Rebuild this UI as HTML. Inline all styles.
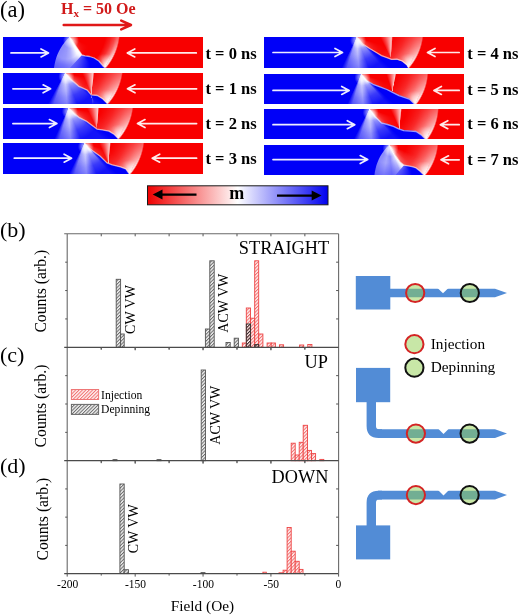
<!DOCTYPE html>
<html><head><meta charset="utf-8"><style>
html,body{margin:0;padding:0;background:#fff;}
body{width:520px;height:615px;position:relative;overflow:hidden;font-family:"Liberation Serif", "DejaVu Serif", serif;}
.st{position:absolute;overflow:hidden;}
.st .in{position:absolute;left:0;top:0;right:0;bottom:0;filter:blur(.6px);}
.st .bl,.st .rd,.st .ly{position:absolute;left:0;top:0;width:100%;height:100%;}
.ov{position:absolute;left:0;top:0;}
svg text{font-family:"Liberation Serif", "DejaVu Serif", serif;}
#main{position:absolute;left:0;top:0;}
</style></head><body>
<div class="st" style="left:3px;top:37px;width:199.5px;height:30.7px"><div class="in"><div class="bl"><div class="ly" style="background:#0000f8;"></div><div class="ly" style="clip-path:polygon(66.5px 0px, 63.99px 2.58px, 61.69px 5.27px, 59.6px 8.07px, 57.73px 10.98px, 56.07px 14px, 54.63px 17.12px, 53.4px 20.35px, 52.39px 23.69px, 51.59px 27.14px, 51px 30.7px, 51px 35.7px, 204.5px 35.7px, 204.5px -5px, 66.5px -5px);background:conic-gradient(from 125.22deg at 66.5px 0px, rgba(255,255,255,0) 0deg, rgba(255,255,255,0) 13deg, rgba(255,255,255,1) 20deg, rgba(255,255,255,0.95) 32deg, rgba(255,255,255,0.7) 50.78deg, rgba(255,255,255,0.6) 66.17deg, rgba(255,255,255,0.55) 85.57deg, rgba(255,255,255,0.55) 300deg, rgba(255,255,255,0) 301deg, rgba(255,255,255,0) 360deg);-webkit-mask-image:radial-gradient(circle at 63.5px 8px, rgba(0,0,0,1) 0px, rgba(0,0,0,1) 14px, rgba(0,0,0,0.75) 20px, rgba(0,0,0,0.45) 34px)"></div><div class="ly" style="background:conic-gradient(from 125.22deg at 66.5px 0px, rgba(255,255,255,0) 0deg, rgba(255,255,255,0) 13deg, rgba(255,255,255,1) 20deg, rgba(255,255,255,0.9) 26deg, rgba(255,255,255,0) 34deg, rgba(255,255,255,0) 360deg);-webkit-mask-image:radial-gradient(circle at 66.5px 0px, rgba(0,0,0,1) 0px, rgba(0,0,0,1) 13.91px, rgba(0,0,0,0.8) 21.91px, rgba(0,0,0,0) 25.91px);mask-image:radial-gradient(circle at 66.5px 0px, rgba(0,0,0,1) 0px, rgba(0,0,0,1) 13.91px, rgba(0,0,0,0.8) 21.91px, rgba(0,0,0,0) 25.91px);"></div><div class="ly" style="clip-path:polygon(79px 18px, 82px 18.8px, 86.6px 19.5px, 91.2px 21px, 95.8px 24px, 100.5px 29.5px, 102px 30.7px, 107px 35.7px, 62.49px 35.7px);background:linear-gradient(90deg, rgba(0,0,248,0) 62.49px, #0000f8 87px)"></div></div><div class="rd" style="clip-path:polygon(66.5px 0px, 79px 18px, 82px 18.8px, 86.6px 19.5px, 91.2px 21px, 95.8px 24px, 100.5px 29.5px, 102px 30.7px, 204.5px 35.7px, 204.5px -5px, 66.5px -5px)"><div class="ly" style="background:#f80000;"></div><div class="ly" style="background:radial-gradient(circle 62.49px at 58.41px -6.78px, rgba(255,255,255,0) 44.49px, rgba(255,255,255,.22) 49.69px, rgba(255,255,255,.5) 53.59px, rgba(255,255,255,.82) 55.99px, rgba(255,255,255,.9) 57.49px, rgba(255,255,255,0) 58.89px);-webkit-mask-image:radial-gradient(circle at 102px 30.7px, rgba(0,0,0,1) 0px, rgba(0,0,0,1) 8px, rgba(0,0,0,0.45) 32px)"></div><div class="ly" style="background:conic-gradient(from -76.26deg at 102px 30.7px, rgba(255,255,255,0) 0deg, rgba(255,255,255,0) 30deg, rgba(255,255,255,0.55) 60deg, rgba(255,255,255,0.8) 100deg, rgba(255,255,255,0) 100.8deg, rgba(255,255,255,0) 360deg);-webkit-mask-image:radial-gradient(circle at 102px 30.7px, rgba(0,0,0,1) 0px, rgba(0,0,0,1) 3px, rgba(0,0,0,0) 14px);mask-image:radial-gradient(circle at 102px 30.7px, rgba(0,0,0,1) 0px, rgba(0,0,0,1) 3px, rgba(0,0,0,0) 14px);"></div><div class="ly" style="background:conic-gradient(from 85.22deg at 66.5px 0px, rgba(255,255,255,0) 0deg, rgba(255,255,255,0) 28deg, rgba(255,255,255,0.35) 47.2deg, rgba(255,255,255,0.85) 60deg, rgba(255,255,255,0.85) 80deg, rgba(255,255,255,0) 82deg, rgba(255,255,255,0) 360deg);-webkit-mask-image:radial-gradient(circle at 66.5px 0px, rgba(0,0,0,1) 0px, rgba(0,0,0,1) 3px, rgba(0,0,0,0.55) 7px, rgba(0,0,0,0.2) 14px, rgba(0,0,0,0) 22.4px);mask-image:radial-gradient(circle at 66.5px 0px, rgba(0,0,0,1) 0px, rgba(0,0,0,1) 3px, rgba(0,0,0,0.55) 7px, rgba(0,0,0,0.2) 14px, rgba(0,0,0,0) 22.4px);"></div></div><svg class="ov" width="199.5" height="30.7"><polyline points="66.5,0 79,18 82,18.8 86.6,19.5 91.2,21 95.8,24 100.5,29.5 102,30.7" fill="none" stroke="#fff" stroke-width="1.3" stroke-opacity=".6" stroke-linejoin="round"/></svg><div class="ly" style="background:radial-gradient(circle 8px at 68px 3.5px, rgba(255,255,255,0.85) 0px, rgba(255,255,255,0.47) 4px, rgba(255,255,255,0) 8px)"></div></div><svg class="ov" width="199.5" height="30.7"><g fill="none" stroke-width="1.7" stroke-linecap="round" stroke-linejoin="round"><path d="M8 15.9H45 M38 11.9L45.5 15.9L38 19.9" stroke="#eeeeff"/><path d="M193.3 15.9H124.8 M131.8 11.9L124.3 15.9L131.8 19.9" stroke="#ffeaea"/></g></svg></div><div class="st" style="left:3px;top:73.1px;width:199.5px;height:30.6px"><div class="in"><div class="bl"><div class="ly" style="background:#0000f8;"></div><div class="ly" style="background:conic-gradient(from 113.93deg at 61.9px 0px, rgba(255,255,255,0) 0deg, rgba(255,255,255,0) 13deg, rgba(255,255,255,0.95) 20deg, rgba(255,255,255,0.85) 54.47deg, rgba(255,255,255,0.55) 85.93deg, rgba(255,255,255,0) 94.93deg, rgba(255,255,255,0) 360deg);-webkit-mask-image:radial-gradient(circle at 61.9px 0px, rgba(0,0,0,1) 0px, rgba(0,0,0,1) 6px, rgba(0,0,0,0.6) 14px, rgba(0,0,0,0.25) 24px, rgba(0,0,0,0.08) 34px);mask-image:radial-gradient(circle at 61.9px 0px, rgba(0,0,0,1) 0px, rgba(0,0,0,1) 6px, rgba(0,0,0,0.6) 14px, rgba(0,0,0,0.25) 24px, rgba(0,0,0,0.08) 34px);"></div><div class="ly" style="background:conic-gradient(from 113.93deg at 61.9px 0px, rgba(255,255,255,0) 0deg, rgba(255,255,255,0) 44.07deg, rgba(255,255,255,0.55) 62.07deg, rgba(255,255,255,0.35) 85.93deg, rgba(255,255,255,0) 94.93deg, rgba(255,255,255,0) 360deg);-webkit-mask-image:radial-gradient(circle at 58.9px 8px, rgba(0,0,0,1) 0px, rgba(0,0,0,1) 10px, rgba(0,0,0,0.85) 20px, rgba(0,0,0,0.65) 34px)"></div><div class="ly" style="background:conic-gradient(from 113.93deg at 61.9px 0px, rgba(255,255,255,0) 0deg, rgba(255,255,255,0) 13deg, rgba(255,255,255,1) 20deg, rgba(255,255,255,0.9) 26deg, rgba(255,255,255,0) 34deg, rgba(255,255,255,0) 360deg);-webkit-mask-image:radial-gradient(circle at 61.9px 0px, rgba(0,0,0,1) 0px, rgba(0,0,0,1) 2px, rgba(0,0,0,0.5) 9px, rgba(0,0,0,0) 13px);mask-image:radial-gradient(circle at 61.9px 0px, rgba(0,0,0,1) 0px, rgba(0,0,0,1) 2px, rgba(0,0,0,0.5) 9px, rgba(0,0,0,0) 13px);"></div><div class="ly" style="background:conic-gradient(from 150deg at 88.2px 22.4px, rgba(255,255,255,0) 0deg, rgba(255,255,255,0.6) 22deg, rgba(255,255,255,0) 23deg, rgba(255,255,255,0) 360deg);-webkit-mask-image:radial-gradient(circle at 88.2px 22.4px, rgba(0,0,0,1) 0px, rgba(0,0,0,0) 9px);mask-image:radial-gradient(circle at 88.2px 22.4px, rgba(0,0,0,1) 0px, rgba(0,0,0,0) 9px);"></div></div><div class="rd" style="clip-path:polygon(61.9px 0px, 67px 5.4px, 75.5px 13.1px, 84.2px 17.1px, 88.2px 21.8px, 94.3px 22.5px, 99.7px 25.8px, 103.7px 29.9px, 104.2px 30.6px, 204.5px 35.6px, 204.5px -5px, 61.9px -5px)"><div class="ly" style="background:#f80000;"></div><div class="ly" style="background:radial-gradient(circle 63.29px at 60.8px -8.32px, rgba(255,255,255,0) 28.29px, rgba(255,255,255,.22) 40.29px, rgba(255,255,255,.5) 49.29px, rgba(255,255,255,.82) 56.79px, rgba(255,255,255,.9) 58.29px, rgba(255,255,255,0) 59.69px);-webkit-mask-image:radial-gradient(circle at 104.2px 30.6px, rgba(0,0,0,1) 0px, rgba(0,0,0,1) 8px, rgba(0,0,0,0.45) 32px)"></div><div class="ly" style="background:conic-gradient(from -74.95deg at 104.2px 30.6px, rgba(255,255,255,0) 0deg, rgba(255,255,255,0) 30deg, rgba(255,255,255,0.55) 60deg, rgba(255,255,255,0.8) 100deg, rgba(255,255,255,0) 100.8deg, rgba(255,255,255,0) 360deg);-webkit-mask-image:radial-gradient(circle at 104.2px 30.6px, rgba(0,0,0,1) 0px, rgba(0,0,0,1) 3px, rgba(0,0,0,0) 14px);mask-image:radial-gradient(circle at 104.2px 30.6px, rgba(0,0,0,1) 0px, rgba(0,0,0,1) 3px, rgba(0,0,0,0) 14px);"></div><div class="ly" style="background:conic-gradient(from 73.93deg at 61.9px 0px, rgba(255,255,255,0) 0deg, rgba(255,255,255,0) 28deg, rgba(255,255,255,0.35) 47.2deg, rgba(255,255,255,0.85) 60deg, rgba(255,255,255,0.85) 80deg, rgba(255,255,255,0) 82deg, rgba(255,255,255,0) 360deg);-webkit-mask-image:radial-gradient(circle at 61.9px 0px, rgba(0,0,0,1) 0px, rgba(0,0,0,1) 3px, rgba(0,0,0,0.55) 12px, rgba(0,0,0,0.2) 24px, rgba(0,0,0,0) 38.4px);mask-image:radial-gradient(circle at 61.9px 0px, rgba(0,0,0,1) 0px, rgba(0,0,0,1) 3px, rgba(0,0,0,0.55) 12px, rgba(0,0,0,0.2) 24px, rgba(0,0,0,0) 38.4px);"></div><div class="ly" style="background:conic-gradient(from -24deg at 88.5px 21.4px, rgba(255,255,255,0) 0deg, rgba(255,255,255,0.3) 12deg, rgba(255,255,255,0.6) 22deg, rgba(255,255,255,0.78) 28deg, rgba(255,255,255,0) 32deg, rgba(255,255,255,0) 360deg);"></div></div><svg class="ov" width="199.5" height="30.6"><polyline points="61.9,0 67,5.4 75.5,13.1 84.2,17.1 88.2,21.8 94.3,22.5 99.7,25.8 103.7,29.9 104.2,30.6" fill="none" stroke="#fff" stroke-width="1.3" stroke-opacity=".6" stroke-linejoin="round"/></svg><div class="ly" style="background:radial-gradient(circle 8px at 63.4px 3.5px, rgba(255,255,255,0.85) 0px, rgba(255,255,255,0.47) 4px, rgba(255,255,255,0) 8px)"></div></div><svg class="ov" width="199.5" height="30.6"><g fill="none" stroke-width="1.7" stroke-linecap="round" stroke-linejoin="round"><path d="M9.9 15.8H47.1 M40.1 11.8L47.6 15.8L40.1 19.8" stroke="#eeeeff"/><path d="M193.6 15.8H125 M132 11.8L124.5 15.8L132 19.8" stroke="#ffeaea"/></g></svg></div><div class="st" style="left:3px;top:108.1px;width:199.5px;height:30.6px"><div class="in"><div class="bl"><div class="ly" style="background:#0000f8;"></div><div class="ly" style="background:conic-gradient(from 111.41deg at 65.4px 0px, rgba(255,255,255,0) 0deg, rgba(255,255,255,0) 13deg, rgba(255,255,255,0.95) 20deg, rgba(255,255,255,0.85) 53.68deg, rgba(255,255,255,0.55) 84.36deg, rgba(255,255,255,0) 93.36deg, rgba(255,255,255,0) 360deg);-webkit-mask-image:radial-gradient(circle at 65.4px 0px, rgba(0,0,0,1) 0px, rgba(0,0,0,1) 6px, rgba(0,0,0,0.6) 14px, rgba(0,0,0,0.25) 24px, rgba(0,0,0,0.08) 34px);mask-image:radial-gradient(circle at 65.4px 0px, rgba(0,0,0,1) 0px, rgba(0,0,0,1) 6px, rgba(0,0,0,0.6) 14px, rgba(0,0,0,0.25) 24px, rgba(0,0,0,0.08) 34px);"></div><div class="ly" style="background:conic-gradient(from 111.41deg at 65.4px 0px, rgba(255,255,255,0) 0deg, rgba(255,255,255,0) 46.59deg, rgba(255,255,255,0.55) 64.59deg, rgba(255,255,255,0.35) 84.36deg, rgba(255,255,255,0) 93.36deg, rgba(255,255,255,0) 360deg);-webkit-mask-image:radial-gradient(circle at 62.4px 8px, rgba(0,0,0,1) 0px, rgba(0,0,0,1) 10px, rgba(0,0,0,0.85) 20px, rgba(0,0,0,0.65) 34px)"></div><div class="ly" style="background:conic-gradient(from 111.41deg at 65.4px 0px, rgba(255,255,255,0) 0deg, rgba(255,255,255,0) 13deg, rgba(255,255,255,1) 20deg, rgba(255,255,255,0.9) 26deg, rgba(255,255,255,0) 34deg, rgba(255,255,255,0) 360deg);-webkit-mask-image:radial-gradient(circle at 65.4px 0px, rgba(0,0,0,1) 0px, rgba(0,0,0,1) 2px, rgba(0,0,0,0.5) 9px, rgba(0,0,0,0) 13px);mask-image:radial-gradient(circle at 65.4px 0px, rgba(0,0,0,1) 0px, rgba(0,0,0,1) 2px, rgba(0,0,0,0.5) 9px, rgba(0,0,0,0) 13px);"></div></div><div class="rd" style="clip-path:polygon(65.4px 0px, 68px 2.7px, 76.4px 9.7px, 83.2px 13.1px, 88.5px 17.1px, 93.9px 21.1px, 99.3px 21.8px, 106px 23.1px, 111.4px 26.5px, 114.8px 30.1px, 115.2px 30.6px, 204.5px 35.6px, 204.5px -5px, 65.4px -5px)"><div class="ly" style="background:#f80000;"></div><div class="ly" style="background:radial-gradient(circle 62.59px at 71.88px -7.35px, rgba(255,255,255,0) 27.59px, rgba(255,255,255,.22) 39.59px, rgba(255,255,255,.5) 48.59px, rgba(255,255,255,.82) 56.09px, rgba(255,255,255,.9) 57.59px, rgba(255,255,255,0) 58.99px);-webkit-mask-image:radial-gradient(circle at 115.2px 30.6px, rgba(0,0,0,1) 0px, rgba(0,0,0,1) 8px, rgba(0,0,0,0.45) 32px)"></div><div class="ly" style="background:conic-gradient(from -75.73deg at 115.2px 30.6px, rgba(255,255,255,0) 0deg, rgba(255,255,255,0) 30deg, rgba(255,255,255,0.55) 60deg, rgba(255,255,255,0.8) 100deg, rgba(255,255,255,0) 100.8deg, rgba(255,255,255,0) 360deg);-webkit-mask-image:radial-gradient(circle at 115.2px 30.6px, rgba(0,0,0,1) 0px, rgba(0,0,0,1) 3px, rgba(0,0,0,0) 14px);mask-image:radial-gradient(circle at 115.2px 30.6px, rgba(0,0,0,1) 0px, rgba(0,0,0,1) 3px, rgba(0,0,0,0) 14px);"></div><div class="ly" style="background:conic-gradient(from 71.41deg at 65.4px 0px, rgba(255,255,255,0) 0deg, rgba(255,255,255,0) 28deg, rgba(255,255,255,0.35) 47.2deg, rgba(255,255,255,0.85) 60deg, rgba(255,255,255,0.85) 80deg, rgba(255,255,255,0) 82deg, rgba(255,255,255,0) 360deg);-webkit-mask-image:radial-gradient(circle at 65.4px 0px, rgba(0,0,0,1) 0px, rgba(0,0,0,1) 3px, rgba(0,0,0,0.55) 12px, rgba(0,0,0,0.2) 24px, rgba(0,0,0,0) 38.4px);mask-image:radial-gradient(circle at 65.4px 0px, rgba(0,0,0,1) 0px, rgba(0,0,0,1) 3px, rgba(0,0,0,0.55) 12px, rgba(0,0,0,0.2) 24px, rgba(0,0,0,0) 38.4px);"></div><div class="ly" style="background:conic-gradient(from -26deg at 94px 21.1px, rgba(255,255,255,0) 0deg, rgba(255,255,255,0.3) 12deg, rgba(255,255,255,0.6) 22deg, rgba(255,255,255,0.78) 28deg, rgba(255,255,255,0) 32deg, rgba(255,255,255,0) 360deg);"></div></div><svg class="ov" width="199.5" height="30.6"><polyline points="65.4,0 68,2.7 76.4,9.7 83.2,13.1 88.5,17.1 93.9,21.1 99.3,21.8 106,23.1 111.4,26.5 114.8,30.1 115.2,30.6" fill="none" stroke="#fff" stroke-width="1.3" stroke-opacity=".6" stroke-linejoin="round"/></svg><div class="ly" style="background:radial-gradient(circle 8px at 66.9px 3.5px, rgba(255,255,255,0.85) 0px, rgba(255,255,255,0.47) 4px, rgba(255,255,255,0) 8px)"></div></div><svg class="ov" width="199.5" height="30.6"><g fill="none" stroke-width="1.7" stroke-linecap="round" stroke-linejoin="round"><path d="M9.9 15.6H53.4 M46.4 11.6L53.9 15.6L46.4 19.6" stroke="#eeeeff"/><path d="M193.6 15.6H135 M142 11.6L134.5 15.6L142 19.6" stroke="#ffeaea"/></g></svg></div><div class="st" style="left:3px;top:143px;width:199.5px;height:31px"><div class="in"><div class="bl"><div class="ly" style="background:#0000f8;"></div><div class="ly" style="background:conic-gradient(from 119.94deg at 81.4px 0px, rgba(255,255,255,0) 0deg, rgba(255,255,255,0) 13deg, rgba(255,255,255,0.95) 20deg, rgba(255,255,255,0.85) 50.37deg, rgba(255,255,255,0.55) 77.74deg, rgba(255,255,255,0) 86.74deg, rgba(255,255,255,0) 360deg);-webkit-mask-image:radial-gradient(circle at 81.4px 0px, rgba(0,0,0,1) 0px, rgba(0,0,0,1) 6px, rgba(0,0,0,0.6) 14px, rgba(0,0,0,0.25) 24px, rgba(0,0,0,0.08) 34px);mask-image:radial-gradient(circle at 81.4px 0px, rgba(0,0,0,1) 0px, rgba(0,0,0,1) 6px, rgba(0,0,0,0.6) 14px, rgba(0,0,0,0.25) 24px, rgba(0,0,0,0.08) 34px);"></div><div class="ly" style="background:conic-gradient(from 119.94deg at 81.4px 0px, rgba(255,255,255,0) 0deg, rgba(255,255,255,0) 38.06deg, rgba(255,255,255,0.55) 56.06deg, rgba(255,255,255,0.35) 77.74deg, rgba(255,255,255,0) 86.74deg, rgba(255,255,255,0) 360deg);-webkit-mask-image:radial-gradient(circle at 78.4px 8px, rgba(0,0,0,1) 0px, rgba(0,0,0,1) 10px, rgba(0,0,0,0.85) 20px, rgba(0,0,0,0.65) 34px)"></div><div class="ly" style="background:conic-gradient(from 119.94deg at 81.4px 0px, rgba(255,255,255,0) 0deg, rgba(255,255,255,0) 13deg, rgba(255,255,255,1) 20deg, rgba(255,255,255,0.9) 26deg, rgba(255,255,255,0) 34deg, rgba(255,255,255,0) 360deg);-webkit-mask-image:radial-gradient(circle at 81.4px 0px, rgba(0,0,0,1) 0px, rgba(0,0,0,1) 2px, rgba(0,0,0,0.5) 9px, rgba(0,0,0,0) 13px);mask-image:radial-gradient(circle at 81.4px 0px, rgba(0,0,0,1) 0px, rgba(0,0,0,1) 2px, rgba(0,0,0,0.5) 9px, rgba(0,0,0,0) 13px);"></div></div><div class="rd" style="clip-path:polygon(81.4px 0px, 85.1px 4.4px, 90.5px 8.4px, 97.2px 13.2px, 103.9px 19.9px, 109.3px 21.9px, 117.4px 23.9px, 122.8px 25.9px, 126.1px 30.6px, 126.5px 31px, 204.5px 36px, 204.5px -5px, 81.4px -5px)"><div class="ly" style="background:#f80000;"></div><div class="ly" style="background:radial-gradient(circle 63.41px at 81.99px -6.82px, rgba(255,255,255,0) 28.41px, rgba(255,255,255,.22) 40.41px, rgba(255,255,255,.5) 49.41px, rgba(255,255,255,.82) 56.91px, rgba(255,255,255,.9) 58.41px, rgba(255,255,255,0) 59.81px);-webkit-mask-image:radial-gradient(circle at 126.5px 31px, rgba(0,0,0,1) 0px, rgba(0,0,0,1) 8px, rgba(0,0,0,0.45) 32px)"></div><div class="ly" style="background:conic-gradient(from -76.47deg at 126.5px 31px, rgba(255,255,255,0) 0deg, rgba(255,255,255,0) 30deg, rgba(255,255,255,0.55) 60deg, rgba(255,255,255,0.8) 100deg, rgba(255,255,255,0) 100.8deg, rgba(255,255,255,0) 360deg);-webkit-mask-image:radial-gradient(circle at 126.5px 31px, rgba(0,0,0,1) 0px, rgba(0,0,0,1) 3px, rgba(0,0,0,0) 14px);mask-image:radial-gradient(circle at 126.5px 31px, rgba(0,0,0,1) 0px, rgba(0,0,0,1) 3px, rgba(0,0,0,0) 14px);"></div><div class="ly" style="background:conic-gradient(from 79.94deg at 81.4px 0px, rgba(255,255,255,0) 0deg, rgba(255,255,255,0) 28deg, rgba(255,255,255,0.35) 47.2deg, rgba(255,255,255,0.85) 60deg, rgba(255,255,255,0.85) 80deg, rgba(255,255,255,0) 82deg, rgba(255,255,255,0) 360deg);-webkit-mask-image:radial-gradient(circle at 81.4px 0px, rgba(0,0,0,1) 0px, rgba(0,0,0,1) 3px, rgba(0,0,0,0.55) 12px, rgba(0,0,0,0.2) 24px, rgba(0,0,0,0) 38.4px);mask-image:radial-gradient(circle at 81.4px 0px, rgba(0,0,0,1) 0px, rgba(0,0,0,1) 3px, rgba(0,0,0,0.55) 12px, rgba(0,0,0,0.2) 24px, rgba(0,0,0,0) 38.4px);"></div><div class="ly" style="background:conic-gradient(from -25deg at 105.5px 20.4px, rgba(255,255,255,0) 0deg, rgba(255,255,255,0.3) 12deg, rgba(255,255,255,0.6) 22deg, rgba(255,255,255,0.78) 28deg, rgba(255,255,255,0) 32deg, rgba(255,255,255,0) 360deg);"></div></div><svg class="ov" width="199.5" height="31"><polyline points="81.4,0 85.1,4.4 90.5,8.4 97.2,13.2 103.9,19.9 109.3,21.9 117.4,23.9 122.8,25.9 126.1,30.6 126.5,31" fill="none" stroke="#fff" stroke-width="1.3" stroke-opacity=".6" stroke-linejoin="round"/></svg><div class="ly" style="background:radial-gradient(circle 8px at 82.9px 3.5px, rgba(255,255,255,0.85) 0px, rgba(255,255,255,0.47) 4px, rgba(255,255,255,0) 8px)"></div></div><svg class="ov" width="199.5" height="31"><g fill="none" stroke-width="1.7" stroke-linecap="round" stroke-linejoin="round"><path d="M11.3 15.2H68.1 M61.1 11.2L68.6 15.2L61.1 19.2" stroke="#eeeeff"/><path d="M193.6 15.2H149.7 M156.7 11.2L149.2 15.2L156.7 19.2" stroke="#ffeaea"/></g></svg></div><div class="st" style="left:264px;top:37.4px;width:200px;height:30.5px"><div class="in"><div class="bl"><div class="ly" style="background:#0000f8;"></div><div class="ly" style="background:conic-gradient(from 119.33deg at 92.6px 0px, rgba(255,255,255,0) 0deg, rgba(255,255,255,0) 13deg, rgba(255,255,255,0.95) 20deg, rgba(255,255,255,0.85) 50.42deg, rgba(255,255,255,0.55) 77.83deg, rgba(255,255,255,0) 86.83deg, rgba(255,255,255,0) 360deg);-webkit-mask-image:radial-gradient(circle at 92.6px 0px, rgba(0,0,0,1) 0px, rgba(0,0,0,1) 6px, rgba(0,0,0,0.6) 14px, rgba(0,0,0,0.25) 24px, rgba(0,0,0,0.08) 34px);mask-image:radial-gradient(circle at 92.6px 0px, rgba(0,0,0,1) 0px, rgba(0,0,0,1) 6px, rgba(0,0,0,0.6) 14px, rgba(0,0,0,0.25) 24px, rgba(0,0,0,0.08) 34px);"></div><div class="ly" style="background:conic-gradient(from 119.33deg at 92.6px 0px, rgba(255,255,255,0) 0deg, rgba(255,255,255,0) 38.67deg, rgba(255,255,255,0.55) 56.67deg, rgba(255,255,255,0.35) 77.83deg, rgba(255,255,255,0) 86.83deg, rgba(255,255,255,0) 360deg);-webkit-mask-image:radial-gradient(circle at 89.6px 8px, rgba(0,0,0,1) 0px, rgba(0,0,0,1) 10px, rgba(0,0,0,0.85) 20px, rgba(0,0,0,0.65) 34px)"></div><div class="ly" style="background:conic-gradient(from 119.33deg at 92.6px 0px, rgba(255,255,255,0) 0deg, rgba(255,255,255,0) 13deg, rgba(255,255,255,1) 20deg, rgba(255,255,255,0.9) 26deg, rgba(255,255,255,0) 34deg, rgba(255,255,255,0) 360deg);-webkit-mask-image:radial-gradient(circle at 92.6px 0px, rgba(0,0,0,1) 0px, rgba(0,0,0,1) 2px, rgba(0,0,0,0.5) 9px, rgba(0,0,0,0) 13px);mask-image:radial-gradient(circle at 92.6px 0px, rgba(0,0,0,1) 0px, rgba(0,0,0,1) 2px, rgba(0,0,0,0.5) 9px, rgba(0,0,0,0) 13px);"></div></div><div class="rd" style="clip-path:polygon(92.6px 0px, 98.7px 7.1px, 106px 11.7px, 113.7px 16.3px, 117.5px 18.6px, 123.7px 20.9px, 127.5px 22.4px, 132.9px 22.1px, 138.3px 24px, 142.9px 27.8px, 144.3px 30.5px, 205px 35.5px, 205px -5px, 92.6px -5px)"><div class="ly" style="background:#f80000;"></div><div class="ly" style="background:radial-gradient(circle 62.15px at 101.3px -7.14px, rgba(255,255,255,0) 27.15px, rgba(255,255,255,.22) 39.15px, rgba(255,255,255,.5) 48.15px, rgba(255,255,255,.82) 55.65px, rgba(255,255,255,.9) 57.15px, rgba(255,255,255,0) 58.55px);-webkit-mask-image:radial-gradient(circle at 144.3px 30.5px, rgba(0,0,0,1) 0px, rgba(0,0,0,1) 8px, rgba(0,0,0,0.45) 32px)"></div><div class="ly" style="background:conic-gradient(from -75.81deg at 144.3px 30.5px, rgba(255,255,255,0) 0deg, rgba(255,255,255,0) 30deg, rgba(255,255,255,0.55) 60deg, rgba(255,255,255,0.8) 100deg, rgba(255,255,255,0) 100.8deg, rgba(255,255,255,0) 360deg);-webkit-mask-image:radial-gradient(circle at 144.3px 30.5px, rgba(0,0,0,1) 0px, rgba(0,0,0,1) 3px, rgba(0,0,0,0) 14px);mask-image:radial-gradient(circle at 144.3px 30.5px, rgba(0,0,0,1) 0px, rgba(0,0,0,1) 3px, rgba(0,0,0,0) 14px);"></div><div class="ly" style="background:conic-gradient(from 79.33deg at 92.6px 0px, rgba(255,255,255,0) 0deg, rgba(255,255,255,0) 28deg, rgba(255,255,255,0.35) 47.2deg, rgba(255,255,255,0.85) 60deg, rgba(255,255,255,0.85) 80deg, rgba(255,255,255,0) 82deg, rgba(255,255,255,0) 360deg);-webkit-mask-image:radial-gradient(circle at 92.6px 0px, rgba(0,0,0,1) 0px, rgba(0,0,0,1) 3px, rgba(0,0,0,0.55) 12px, rgba(0,0,0,0.2) 24px, rgba(0,0,0,0) 38.4px);mask-image:radial-gradient(circle at 92.6px 0px, rgba(0,0,0,1) 0px, rgba(0,0,0,1) 3px, rgba(0,0,0,0.55) 12px, rgba(0,0,0,0.2) 24px, rgba(0,0,0,0) 38.4px);"></div><div class="ly" style="background:conic-gradient(from -27deg at 127px 21.6px, rgba(255,255,255,0) 0deg, rgba(255,255,255,0.3) 12deg, rgba(255,255,255,0.6) 22deg, rgba(255,255,255,0.78) 28deg, rgba(255,255,255,0) 32deg, rgba(255,255,255,0) 360deg);"></div></div><svg class="ov" width="200" height="30.5"><polyline points="92.6,0 98.7,7.1 106,11.7 113.7,16.3 117.5,18.6 123.7,20.9 127.5,22.4 132.9,22.1 138.3,24 142.9,27.8 144.3,30.5" fill="none" stroke="#fff" stroke-width="1.3" stroke-opacity=".6" stroke-linejoin="round"/></svg><div class="ly" style="background:radial-gradient(circle 8px at 94.1px 3.5px, rgba(255,255,255,0.85) 0px, rgba(255,255,255,0.47) 4px, rgba(255,255,255,0) 8px)"></div></div><svg class="ov" width="200" height="30.5"><g fill="none" stroke-width="1.7" stroke-linecap="round" stroke-linejoin="round"><path d="M9 15.5H78 M71 11.5L78.5 15.5L71 19.5" stroke="#eeeeff"/><path d="M195.2 15.5H164 M171 11.5L163.5 15.5L171 19.5" stroke="#ffeaea"/></g></svg></div><div class="st" style="left:264px;top:73.5px;width:200px;height:30.7px"><div class="in"><div class="bl"><div class="ly" style="background:#0000f8;"></div><div class="ly" style="background:conic-gradient(from 118.99deg at 97px 0px, rgba(255,255,255,0) 0deg, rgba(255,255,255,0) 13deg, rgba(255,255,255,0.95) 20deg, rgba(255,255,255,0.85) 49.86deg, rgba(255,255,255,0.55) 76.72deg, rgba(255,255,255,0) 85.72deg, rgba(255,255,255,0) 360deg);-webkit-mask-image:radial-gradient(circle at 97px 0px, rgba(0,0,0,1) 0px, rgba(0,0,0,1) 6px, rgba(0,0,0,0.6) 14px, rgba(0,0,0,0.25) 24px, rgba(0,0,0,0.08) 34px);mask-image:radial-gradient(circle at 97px 0px, rgba(0,0,0,1) 0px, rgba(0,0,0,1) 6px, rgba(0,0,0,0.6) 14px, rgba(0,0,0,0.25) 24px, rgba(0,0,0,0.08) 34px);"></div><div class="ly" style="background:conic-gradient(from 118.99deg at 97px 0px, rgba(255,255,255,0) 0deg, rgba(255,255,255,0) 39.01deg, rgba(255,255,255,0.55) 57.01deg, rgba(255,255,255,0.35) 76.72deg, rgba(255,255,255,0) 85.72deg, rgba(255,255,255,0) 360deg);-webkit-mask-image:radial-gradient(circle at 94px 8px, rgba(0,0,0,1) 0px, rgba(0,0,0,1) 10px, rgba(0,0,0,0.85) 20px, rgba(0,0,0,0.65) 34px)"></div><div class="ly" style="background:conic-gradient(from 118.99deg at 97px 0px, rgba(255,255,255,0) 0deg, rgba(255,255,255,0) 13deg, rgba(255,255,255,1) 20deg, rgba(255,255,255,0.9) 26deg, rgba(255,255,255,0) 34deg, rgba(255,255,255,0) 360deg);-webkit-mask-image:radial-gradient(circle at 97px 0px, rgba(0,0,0,1) 0px, rgba(0,0,0,1) 2px, rgba(0,0,0,0.5) 9px, rgba(0,0,0,0) 13px);mask-image:radial-gradient(circle at 97px 0px, rgba(0,0,0,1) 0px, rgba(0,0,0,1) 2px, rgba(0,0,0,0.5) 9px, rgba(0,0,0,0) 13px);"></div></div><div class="rd" style="clip-path:polygon(97px 0px, 103px 6.9px, 109px 10.3px, 116px 12.9px, 122.9px 15.5px, 128.1px 18.1px, 135px 21.6px, 140.2px 23.3px, 145.4px 25.1px, 150.6px 30.2px, 151px 30.7px, 205px 35.7px, 205px -5px, 97px -5px)"><div class="ly" style="background:#f80000;"></div><div class="ly" style="background:radial-gradient(circle 60.57px at 107.57px -3.97px, rgba(255,255,255,0) 25.57px, rgba(255,255,255,.22) 37.57px, rgba(255,255,255,.5) 46.57px, rgba(255,255,255,.82) 54.07px, rgba(255,255,255,.9) 55.57px, rgba(255,255,255,0) 56.97px);-webkit-mask-image:radial-gradient(circle at 151px 30.7px, rgba(0,0,0,1) 0px, rgba(0,0,0,1) 8px, rgba(0,0,0,0.45) 32px)"></div><div class="ly" style="background:conic-gradient(from -78.65deg at 151px 30.7px, rgba(255,255,255,0) 0deg, rgba(255,255,255,0) 30deg, rgba(255,255,255,0.55) 60deg, rgba(255,255,255,0.8) 100deg, rgba(255,255,255,0) 100.8deg, rgba(255,255,255,0) 360deg);-webkit-mask-image:radial-gradient(circle at 151px 30.7px, rgba(0,0,0,1) 0px, rgba(0,0,0,1) 3px, rgba(0,0,0,0) 14px);mask-image:radial-gradient(circle at 151px 30.7px, rgba(0,0,0,1) 0px, rgba(0,0,0,1) 3px, rgba(0,0,0,0) 14px);"></div><div class="ly" style="background:conic-gradient(from 78.99deg at 97px 0px, rgba(255,255,255,0) 0deg, rgba(255,255,255,0) 28deg, rgba(255,255,255,0.35) 47.2deg, rgba(255,255,255,0.85) 60deg, rgba(255,255,255,0.85) 80deg, rgba(255,255,255,0) 82deg, rgba(255,255,255,0) 360deg);-webkit-mask-image:radial-gradient(circle at 97px 0px, rgba(0,0,0,1) 0px, rgba(0,0,0,1) 3px, rgba(0,0,0,0.55) 12px, rgba(0,0,0,0.2) 24px, rgba(0,0,0,0) 38.4px);mask-image:radial-gradient(circle at 97px 0px, rgba(0,0,0,1) 0px, rgba(0,0,0,1) 3px, rgba(0,0,0,0.55) 12px, rgba(0,0,0,0.2) 24px, rgba(0,0,0,0) 38.4px);"></div><div class="ly" style="background:conic-gradient(from -19deg at 128.3px 18.1px, rgba(255,255,255,0) 0deg, rgba(255,255,255,0.3) 12deg, rgba(255,255,255,0.6) 22deg, rgba(255,255,255,0.78) 28deg, rgba(255,255,255,0) 32deg, rgba(255,255,255,0) 360deg);"></div></div><svg class="ov" width="200" height="30.7"><polyline points="97,0 103,6.9 109,10.3 116,12.9 122.9,15.5 128.1,18.1 135,21.6 140.2,23.3 145.4,25.1 150.6,30.2 151,30.7" fill="none" stroke="#fff" stroke-width="1.3" stroke-opacity=".6" stroke-linejoin="round"/></svg><div class="ly" style="background:radial-gradient(circle 8px at 98.5px 3.5px, rgba(255,255,255,0.85) 0px, rgba(255,255,255,0.47) 4px, rgba(255,255,255,0) 8px)"></div></div><svg class="ov" width="200" height="30.7"><g fill="none" stroke-width="1.7" stroke-linecap="round" stroke-linejoin="round"><path d="M9 16.4H84.7 M77.7 12.4L85.2 16.4L77.7 20.4" stroke="#eeeeff"/><path d="M195.2 16.4H170.4 M177.4 12.4L169.9 16.4L177.4 20.4" stroke="#ffeaea"/></g></svg></div><div class="st" style="left:264px;top:108.5px;width:200px;height:30.8px"><div class="in"><div class="bl"><div class="ly" style="background:#0000f8;"></div><div class="ly" style="background:conic-gradient(from 118.76deg at 105.2px 0px, rgba(255,255,255,0) 0deg, rgba(255,255,255,0) 13deg, rgba(255,255,255,0.95) 20deg, rgba(255,255,255,0.85) 51.35deg, rgba(255,255,255,0.55) 79.69deg, rgba(255,255,255,0) 88.69deg, rgba(255,255,255,0) 360deg);-webkit-mask-image:radial-gradient(circle at 105.2px 0px, rgba(0,0,0,1) 0px, rgba(0,0,0,1) 6px, rgba(0,0,0,0.6) 14px, rgba(0,0,0,0.25) 24px, rgba(0,0,0,0.08) 34px);mask-image:radial-gradient(circle at 105.2px 0px, rgba(0,0,0,1) 0px, rgba(0,0,0,1) 6px, rgba(0,0,0,0.6) 14px, rgba(0,0,0,0.25) 24px, rgba(0,0,0,0.08) 34px);"></div><div class="ly" style="background:conic-gradient(from 118.76deg at 105.2px 0px, rgba(255,255,255,0) 0deg, rgba(255,255,255,0) 39.24deg, rgba(255,255,255,0.55) 57.24deg, rgba(255,255,255,0.35) 79.69deg, rgba(255,255,255,0) 88.69deg, rgba(255,255,255,0) 360deg);-webkit-mask-image:radial-gradient(circle at 102.2px 8px, rgba(0,0,0,1) 0px, rgba(0,0,0,1) 10px, rgba(0,0,0,0.85) 20px, rgba(0,0,0,0.65) 34px)"></div><div class="ly" style="background:conic-gradient(from 118.76deg at 105.2px 0px, rgba(255,255,255,0) 0deg, rgba(255,255,255,0) 13deg, rgba(255,255,255,1) 20deg, rgba(255,255,255,0.9) 26deg, rgba(255,255,255,0) 34deg, rgba(255,255,255,0) 360deg);-webkit-mask-image:radial-gradient(circle at 105.2px 0px, rgba(0,0,0,1) 0px, rgba(0,0,0,1) 2px, rgba(0,0,0,0.5) 9px, rgba(0,0,0,0) 13px);mask-image:radial-gradient(circle at 105.2px 0px, rgba(0,0,0,1) 0px, rgba(0,0,0,1) 2px, rgba(0,0,0,0.5) 9px, rgba(0,0,0,0) 13px);"></div></div><div class="rd" style="clip-path:polygon(105.2px 0px, 111.3px 7.7px, 117.3px 13.8px, 123.4px 15.5px, 129.5px 17.3px, 134.7px 19.9px, 139.8px 21.6px, 146.8px 22.1px, 152px 22.5px, 157.2px 25.9px, 161.5px 30.2px, 162px 30.8px, 205px 35.8px, 205px -5px, 105.2px -5px)"><div class="ly" style="background:#f80000;"></div><div class="ly" style="background:radial-gradient(circle 60.29px at 118.29px -3.07px, rgba(255,255,255,0) 25.29px, rgba(255,255,255,.22) 37.29px, rgba(255,255,255,.5) 46.29px, rgba(255,255,255,.82) 53.79px, rgba(255,255,255,.9) 55.29px, rgba(255,255,255,0) 56.69px);-webkit-mask-image:radial-gradient(circle at 162px 30.8px, rgba(0,0,0,1) 0px, rgba(0,0,0,1) 8px, rgba(0,0,0,0.45) 32px)"></div><div class="ly" style="background:conic-gradient(from -79.53deg at 162px 30.8px, rgba(255,255,255,0) 0deg, rgba(255,255,255,0) 30deg, rgba(255,255,255,0.55) 60deg, rgba(255,255,255,0.8) 100deg, rgba(255,255,255,0) 100.8deg, rgba(255,255,255,0) 360deg);-webkit-mask-image:radial-gradient(circle at 162px 30.8px, rgba(0,0,0,1) 0px, rgba(0,0,0,1) 3px, rgba(0,0,0,0) 14px);mask-image:radial-gradient(circle at 162px 30.8px, rgba(0,0,0,1) 0px, rgba(0,0,0,1) 3px, rgba(0,0,0,0) 14px);"></div><div class="ly" style="background:conic-gradient(from 78.76deg at 105.2px 0px, rgba(255,255,255,0) 0deg, rgba(255,255,255,0) 28deg, rgba(255,255,255,0.35) 47.2deg, rgba(255,255,255,0.85) 60deg, rgba(255,255,255,0.85) 80deg, rgba(255,255,255,0) 82deg, rgba(255,255,255,0) 360deg);-webkit-mask-image:radial-gradient(circle at 105.2px 0px, rgba(0,0,0,1) 0px, rgba(0,0,0,1) 3px, rgba(0,0,0,0.55) 12px, rgba(0,0,0,0.2) 24px, rgba(0,0,0,0) 38.4px);mask-image:radial-gradient(circle at 105.2px 0px, rgba(0,0,0,1) 0px, rgba(0,0,0,1) 3px, rgba(0,0,0,0.55) 12px, rgba(0,0,0,0.2) 24px, rgba(0,0,0,0) 38.4px);"></div><div class="ly" style="background:conic-gradient(from -25deg at 135.5px 19.9px, rgba(255,255,255,0) 0deg, rgba(255,255,255,0.3) 12deg, rgba(255,255,255,0.6) 22deg, rgba(255,255,255,0.78) 28deg, rgba(255,255,255,0) 32deg, rgba(255,255,255,0) 360deg);"></div></div><svg class="ov" width="200" height="30.8"><polyline points="105.2,0 111.3,7.7 117.3,13.8 123.4,15.5 129.5,17.3 134.7,19.9 139.8,21.6 146.8,22.1 152,22.5 157.2,25.9 161.5,30.2 162,30.8" fill="none" stroke="#fff" stroke-width="1.3" stroke-opacity=".6" stroke-linejoin="round"/></svg><div class="ly" style="background:radial-gradient(circle 8px at 106.7px 3.5px, rgba(255,255,255,0.85) 0px, rgba(255,255,255,0.47) 4px, rgba(255,255,255,0) 8px)"></div></div><svg class="ov" width="200" height="30.8"><g fill="none" stroke-width="1.7" stroke-linecap="round" stroke-linejoin="round"><path d="M9 15.7H90.3 M83.3 11.7L90.8 15.7L83.3 19.7" stroke="#eeeeff"/><path d="M195.2 15.7H176.8 M183.8 11.7L176.3 15.7L183.8 19.7" stroke="#ffeaea"/></g></svg></div><div class="st" style="left:264px;top:145px;width:200px;height:30.3px"><div class="in"><div class="bl"><div class="ly" style="background:#0000f8;"></div><div class="ly" style="clip-path:polygon(125px 0px, 122.57px 2.56px, 120.35px 5.23px, 118.35px 8px, 116.57px 10.87px, 115px 13.85px, 113.65px 16.93px, 112.51px 20.12px, 111.59px 23.41px, 110.89px 26.8px, 110.4px 30.3px, 110.4px 35.3px, 205px 35.3px, 205px -5px, 125px -5px);background:conic-gradient(from 123.4deg at 125px 0px, rgba(255,255,255,0) 0deg, rgba(255,255,255,0) 13deg, rgba(255,255,255,1) 20deg, rgba(255,255,255,0.95) 28deg, rgba(255,255,255,0.55) 51.16deg, rgba(255,255,255,0.65) 66.74deg, rgba(255,255,255,0.55) 86.32deg, rgba(255,255,255,0.55) 300deg, rgba(255,255,255,0) 301deg, rgba(255,255,255,0) 360deg);-webkit-mask-image:radial-gradient(circle at 122px 8px, rgba(0,0,0,1) 0px, rgba(0,0,0,1) 10px, rgba(0,0,0,0.75) 20px, rgba(0,0,0,0.45) 34px)"></div><div class="ly" style="background:conic-gradient(from 123.4deg at 125px 0px, rgba(255,255,255,0) 0deg, rgba(255,255,255,0) 13deg, rgba(255,255,255,1) 20deg, rgba(255,255,255,0.9) 26deg, rgba(255,255,255,0) 34deg, rgba(255,255,255,0) 360deg);-webkit-mask-image:radial-gradient(circle at 125px 0px, rgba(0,0,0,1) 0px, rgba(0,0,0,1) 17.16px, rgba(0,0,0,0.85) 25.16px, rgba(0,0,0,0) 29.16px);mask-image:radial-gradient(circle at 125px 0px, rgba(0,0,0,1) 0px, rgba(0,0,0,1) 17.16px, rgba(0,0,0,0.85) 25.16px, rgba(0,0,0,0) 29.16px);"></div><div class="ly" style="clip-path:polygon(140px 20.2px, 144px 20.9px, 148.1px 21.6px, 152.1px 22.9px, 156.2px 26.3px, 160.2px 30.3px, 165.2px 35.3px, 126.87px 35.3px);background:linear-gradient(90deg, rgba(0,0,248,0) 126.87px, #0000f8 148px)"></div></div><div class="rd" style="clip-path:polygon(125px 0px, 131px 10px, 136px 17px, 140px 20.2px, 144px 20.9px, 148.1px 21.6px, 152.1px 22.9px, 156.2px 26.3px, 160.2px 30.3px, 205px 35.3px, 205px -5px, 125px -5px)"><div class="ly" style="background:#f80000;"></div><div class="ly" style="background:radial-gradient(circle 60.35px at 117.92px -5.41px, rgba(255,255,255,0) 25.35px, rgba(255,255,255,.22) 37.35px, rgba(255,255,255,.5) 46.35px, rgba(255,255,255,.82) 53.85px, rgba(255,255,255,.9) 55.35px, rgba(255,255,255,0) 56.75px);-webkit-mask-image:radial-gradient(circle at 160.2px 30.3px, rgba(0,0,0,1) 0px, rgba(0,0,0,1) 8px, rgba(0,0,0,0.45) 32px)"></div><div class="ly" style="background:conic-gradient(from -77.1deg at 160.2px 30.3px, rgba(255,255,255,0) 0deg, rgba(255,255,255,0) 30deg, rgba(255,255,255,0.55) 60deg, rgba(255,255,255,0.8) 100deg, rgba(255,255,255,0) 100.8deg, rgba(255,255,255,0) 360deg);-webkit-mask-image:radial-gradient(circle at 160.2px 30.3px, rgba(0,0,0,1) 0px, rgba(0,0,0,1) 3px, rgba(0,0,0,0) 14px);mask-image:radial-gradient(circle at 160.2px 30.3px, rgba(0,0,0,1) 0px, rgba(0,0,0,1) 3px, rgba(0,0,0,0) 14px);"></div><div class="ly" style="background:conic-gradient(from 83.4deg at 125px 0px, rgba(255,255,255,0) 0deg, rgba(255,255,255,0) 28deg, rgba(255,255,255,0.35) 47.2deg, rgba(255,255,255,0.85) 60deg, rgba(255,255,255,0.85) 80deg, rgba(255,255,255,0) 82deg, rgba(255,255,255,0) 360deg);-webkit-mask-image:radial-gradient(circle at 125px 0px, rgba(0,0,0,1) 0px, rgba(0,0,0,1) 3px, rgba(0,0,0,0.55) 14px, rgba(0,0,0,0.2) 28px, rgba(0,0,0,0) 44.8px);mask-image:radial-gradient(circle at 125px 0px, rgba(0,0,0,1) 0px, rgba(0,0,0,1) 3px, rgba(0,0,0,0.55) 14px, rgba(0,0,0,0.2) 28px, rgba(0,0,0,0) 44.8px);"></div></div><svg class="ov" width="200" height="30.3"><polyline points="125,0 131,10 136,17 140,20.2 144,20.9 148.1,21.6 152.1,22.9 156.2,26.3 160.2,30.3" fill="none" stroke="#fff" stroke-width="1.3" stroke-opacity=".6" stroke-linejoin="round"/></svg><div class="ly" style="background:radial-gradient(circle 8px at 126.5px 3.5px, rgba(255,255,255,0.85) 0px, rgba(255,255,255,0.47) 4px, rgba(255,255,255,0) 8px)"></div></div><svg class="ov" width="200" height="30.3"><g fill="none" stroke-width="1.7" stroke-linecap="round" stroke-linejoin="round"><path d="M9 14.6H103.2 M96.2 10.6L103.7 14.6L96.2 18.6" stroke="#eeeeff"/><path d="M195.2 14.8H177.5 M184.5 10.8L177 14.8L184.5 18.8" stroke="#ffeaea"/></g></svg></div>
<svg id="main" width="520" height="615" viewBox="0 0 520 615"><path d="M63.7 25H130 M121.2 20.6L131 25L121.2 29.4" stroke="#e01818" stroke-width="2.5" fill="none" stroke-linecap="round" stroke-linejoin="round"/><defs><linearGradient id="cb" x1="0" x2="1" y1="0" y2="0"><stop offset="0" stop-color="#f00000"/><stop offset=".5" stop-color="#ffffff"/><stop offset="1" stop-color="#0000f0"/></linearGradient></defs><rect x="147.5" y="185.8" width="180.5" height="19" fill="url(#cb)" stroke="#1a1a1a" stroke-width="1"/><path d="M160 194.6H196.5" stroke="#000" stroke-width="2.2"/><path d="M152.7 194.6L162.5 189.6L162.5 199.6Z" fill="#000"/><path d="M277 195.6H313" stroke="#000" stroke-width="2.2"/><path d="M321.5 195.6L311.7 190.6L311.7 200.6Z" fill="#000"/><defs><pattern id="hg" patternUnits="userSpaceOnUse" width="2.4" height="3" patternTransform="rotate(45)"><rect width="2.4" height="3" fill="#f2f2f2"/><rect width="1" height="3" fill="#6a6a6a"/></pattern><pattern id="hr" patternUnits="userSpaceOnUse" width="2.4" height="3" patternTransform="rotate(45)"><rect width="2.4" height="3" fill="#fff2f2"/><rect width="1" height="3" fill="#f07070"/></pattern><pattern id="hgd" patternUnits="userSpaceOnUse" width="2.4" height="3" patternTransform="rotate(45)"><rect width="1" height="3" fill="#333"/></pattern></defs><rect x="116.2" y="279.3" width="4.4" height="68" fill="url(#hg)" stroke="#555" stroke-width=".9"/><rect x="120.6" y="334" width="3.6" height="13.3" fill="url(#hg)" stroke="#555" stroke-width=".9"/><rect x="205.4" y="329" width="4.4" height="18.3" fill="url(#hg)" stroke="#555" stroke-width=".9"/><rect x="209.8" y="260.8" width="4.4" height="86.5" fill="url(#hg)" stroke="#555" stroke-width=".9"/><rect x="226" y="342.5" width="4.2" height="4.8" fill="url(#hg)" stroke="#555" stroke-width=".9"/><rect x="234.2" y="338.2" width="4.2" height="9.1" fill="url(#hg)" stroke="#555" stroke-width=".9"/><rect x="242.3" y="343" width="4" height="4.3" fill="url(#hr)" stroke="#ee4444" stroke-width=".9"/><rect x="246.3" y="308" width="4.2" height="39.3" fill="url(#hr)" stroke="#ee4444" stroke-width=".9"/><rect x="250.5" y="318.2" width="4.2" height="29.1" fill="url(#hr)" stroke="#ee4444" stroke-width=".9"/><rect x="254.7" y="260.8" width="4" height="86.5" fill="url(#hr)" stroke="#ee4444" stroke-width=".9"/><rect x="258.7" y="334" width="4.2" height="13.3" fill="url(#hr)" stroke="#ee4444" stroke-width=".9"/><rect x="267.1" y="343" width="4.1" height="4.3" fill="url(#hr)" stroke="#ee4444" stroke-width=".9"/><rect x="271.2" y="343" width="4.2" height="4.3" fill="url(#hr)" stroke="#ee4444" stroke-width=".9"/><rect x="279.5" y="344.8" width="4.1" height="2.5" fill="url(#hr)" stroke="#ee4444" stroke-width=".9"/><rect x="299.6" y="345" width="4.1" height="2.3" fill="url(#hr)" stroke="#ee4444" stroke-width=".9"/><rect x="307.8" y="344.5" width="4.1" height="2.8" fill="url(#hr)" stroke="#ee4444" stroke-width=".9"/><rect x="246.3" y="324" width="4.3" height="23.3" fill="url(#hgd)" stroke="#333" stroke-width=".9"/><rect x="254.7" y="344.6" width="4" height="2.7" fill="url(#hgd)" stroke="#333" stroke-width=".9"/><rect x="201.2" y="370" width="4.3" height="90.7" fill="url(#hg)" stroke="#555" stroke-width=".9"/><rect x="113" y="459.6" width="4" height="1.1" fill="url(#hg)" stroke="#555" stroke-width=".9"/><rect x="157" y="459.6" width="4" height="1.1" fill="url(#hg)" stroke="#555" stroke-width=".9"/><rect x="291.2" y="443.2" width="4" height="17.5" fill="url(#hr)" stroke="#ee4444" stroke-width=".9"/><rect x="295.2" y="455" width="4" height="5.7" fill="url(#hr)" stroke="#ee4444" stroke-width=".9"/><rect x="299.2" y="442.3" width="4" height="18.4" fill="url(#hr)" stroke="#ee4444" stroke-width=".9"/><rect x="303.2" y="425.3" width="4.3" height="35.4" fill="url(#hr)" stroke="#ee4444" stroke-width=".9"/><rect x="307.5" y="450.4" width="4" height="10.3" fill="url(#hr)" stroke="#ee4444" stroke-width=".9"/><rect x="311.5" y="453.6" width="4.1" height="7.1" fill="url(#hr)" stroke="#ee4444" stroke-width=".9"/><rect x="319.8" y="459.4" width="4" height="1.3" fill="url(#hr)" stroke="#ee4444" stroke-width=".9"/><rect x="119.9" y="484" width="4.3" height="89.6" fill="url(#hg)" stroke="#555" stroke-width=".9"/><rect x="124.2" y="569.7" width="4.3" height="3.9" fill="url(#hg)" stroke="#555" stroke-width=".9"/><rect x="201" y="572.6" width="4" height="1" fill="url(#hg)" stroke="#555" stroke-width=".9"/><rect x="262.9" y="572.2" width="3.4" height="1.4" fill="url(#hr)" stroke="#ee4444" stroke-width=".9"/><rect x="279" y="572.8" width="4.1" height="0.8" fill="url(#hr)" stroke="#ee4444" stroke-width=".9"/><rect x="283.1" y="570.2" width="4" height="3.4" fill="url(#hr)" stroke="#ee4444" stroke-width=".9"/><rect x="287.1" y="527.5" width="4.1" height="46.1" fill="url(#hr)" stroke="#ee4444" stroke-width=".9"/><rect x="291.2" y="551.2" width="4" height="22.4" fill="url(#hr)" stroke="#ee4444" stroke-width=".9"/><rect x="295.2" y="561.3" width="4" height="12.3" fill="url(#hr)" stroke="#ee4444" stroke-width=".9"/><rect x="299.2" y="569.4" width="3.8" height="4.2" fill="url(#hr)" stroke="#ee4444" stroke-width=".9"/><g stroke="#6a6a6a" stroke-width="1.1" fill="none"><path d="M67.2 233.8V573.6 M338.6 233.8V573.6 M64.2 233.8H338.6"/></g><g stroke="#4a4a4a" stroke-width="1.3" fill="none"><path d="M64.2 347.3H338.6"/><path d="M64.2 460.7H338.6"/><path d="M64.2 573.6H338.6"/></g><path d="M65.2 262.18H67.2 M338.6 262.18H336.1 M65.2 290.55H67.2 M338.6 290.55H336.1 M65.2 318.93H67.2 M338.6 318.93H336.1 M101.24 347.3V349.3 M135.18 347.3V350.3 M169.11 347.3V349.3 M203.05 347.3V350.3 M236.99 347.3V349.3 M270.93 347.3V350.3 M304.86 347.3V349.3 M101.24 233.8V236.3 M135.18 233.8V236.3 M169.11 233.8V236.3 M203.05 233.8V236.3 M236.99 233.8V236.3 M270.93 233.8V236.3 M304.86 233.8V236.3 M65.2 375.65H67.2 M338.6 375.65H336.1 M65.2 404H67.2 M338.6 404H336.1 M65.2 432.35H67.2 M338.6 432.35H336.1 M101.24 460.7V462.7 M135.18 460.7V463.7 M169.11 460.7V462.7 M203.05 460.7V463.7 M236.99 460.7V462.7 M270.93 460.7V463.7 M304.86 460.7V462.7 M101.24 347.3V349.8 M135.18 347.3V349.8 M169.11 347.3V349.8 M203.05 347.3V349.8 M236.99 347.3V349.8 M270.93 347.3V349.8 M304.86 347.3V349.8 M65.2 488.93H67.2 M338.6 488.93H336.1 M65.2 517.15H67.2 M338.6 517.15H336.1 M65.2 545.38H67.2 M338.6 545.38H336.1 M101.24 573.6V575.6 M135.18 573.6V576.6 M169.11 573.6V575.6 M203.05 573.6V576.6 M236.99 573.6V575.6 M270.93 573.6V576.6 M304.86 573.6V575.6 M101.24 460.7V463.2 M135.18 460.7V463.2 M169.11 460.7V463.2 M203.05 460.7V463.2 M236.99 460.7V463.2 M270.93 460.7V463.2 M304.86 460.7V463.2 M67.2 573.6V576.6 M338.6 573.6V576.6" stroke="#555" stroke-width="1" fill="none"/><rect x="355.8" y="276" width="34.5" height="33.5" fill="#528cd6"/><path d="M389 288.7H495L507 293L495 297.3H389Z" fill="#528cd6"/><path d="M437 287.4L443 293.3L449 287.4Z" fill="#fff"/><circle cx="415.2" cy="293" r="9.1" fill="#92d050" fill-opacity=".5" stroke="#d42424" stroke-width="2"/><circle cx="469.8" cy="293" r="9.1" fill="#92d050" fill-opacity=".5" stroke="#111" stroke-width="2"/><circle cx="414.4" cy="344.2" r="9.1" fill="#92d050" fill-opacity=".5" stroke="#d42424" stroke-width="2"/><circle cx="414.4" cy="367.7" r="9.1" fill="#92d050" fill-opacity=".5" stroke="#111" stroke-width="2"/><rect x="356" y="367.9" width="34.2" height="34.3" fill="#528cd6"/><path d="M366.6 400V425.9 Q366.6 437.9 378.6 437.9 H382 V429.3 H379 Q376 429.3 376 426.3 V400Z" fill="#528cd6"/><path d="M378 429.3H495L507 433.6L495 437.9H378Z" fill="#528cd6"/><path d="M437.5 428L443.5 433.9L449.5 428Z" fill="#fff"/><circle cx="415.9" cy="433.6" r="9.1" fill="#92d050" fill-opacity=".5" stroke="#d42424" stroke-width="2"/><circle cx="469.6" cy="433.6" r="9.1" fill="#92d050" fill-opacity=".5" stroke="#111" stroke-width="2"/><rect x="356" y="525.4" width="34.2" height="34" fill="#528cd6"/><path d="M366.6 527V502.8 Q366.6 490.8 378.6 490.8 H382 V499.4 H379 Q376 499.4 376 502.4 V527Z" fill="#528cd6"/><path d="M378 490.8H495L507 495.1L495 499.4H378Z" fill="#528cd6"/><path d="M437.5 489.5L443.5 495.4L449.5 489.5Z" fill="#fff"/><circle cx="415.9" cy="495.1" r="9.1" fill="#92d050" fill-opacity=".5" stroke="#d42424" stroke-width="2"/><circle cx="469.6" cy="495.1" r="9.1" fill="#92d050" fill-opacity=".5" stroke="#111" stroke-width="2"/><text x="0" y="16.9" font-size="22.5" font-weight="normal" fill="#000" text-anchor="start">(a)</text><text x="61" y="13.6" font-size="16" font-weight="bold" fill="#d11a1a">H<tspan font-size="11" dy="3.5">x</tspan><tspan dy="-3.5"> = 50 Oe</tspan></text><text x="205.5" y="58.6" font-size="16.5" font-weight="bold" fill="#000" text-anchor="start">t = 0 ns</text><text x="205.5" y="93.6" font-size="16.5" font-weight="bold" fill="#000" text-anchor="start">t = 1 ns</text><text x="205.5" y="128.8" font-size="16.5" font-weight="bold" fill="#000" text-anchor="start">t = 2 ns</text><text x="205.5" y="164.2" font-size="16.5" font-weight="bold" fill="#000" text-anchor="start">t = 3 ns</text><text x="467.3" y="58.6" font-size="16.5" font-weight="bold" fill="#000" text-anchor="start">t = 4 ns</text><text x="467.3" y="95" font-size="16.5" font-weight="bold" fill="#000" text-anchor="start">t = 5 ns</text><text x="467.3" y="129.2" font-size="16.5" font-weight="bold" fill="#000" text-anchor="start">t = 6 ns</text><text x="467.3" y="164.9" font-size="16.5" font-weight="bold" fill="#000" text-anchor="start">t = 7 ns</text><text x="229.3" y="199.3" font-size="18" font-weight="bold" fill="#000" text-anchor="start">m</text><text x="0" y="237.3" font-size="22" font-weight="normal" fill="#000" text-anchor="start">(b)</text><text x="0" y="362.1" font-size="22" font-weight="normal" fill="#000" text-anchor="start">(c)</text><text x="0" y="473.3" font-size="22" font-weight="normal" fill="#000" text-anchor="start">(d)</text><text transform="translate(46 291.2) rotate(-90)" font-size="15.7" text-anchor="middle">Counts (arb.)</text><text transform="translate(46 406) rotate(-90)" font-size="15.7" text-anchor="middle">Counts (arb.)</text><text transform="translate(48.2 519.1) rotate(-90)" font-size="15.7" text-anchor="middle">Counts (arb.)</text><text x="238.8" y="253.9" font-size="18.3" font-weight="normal" fill="#000" text-anchor="start">STRAIGHT</text><text x="304.6" y="368.1" font-size="18.3" font-weight="normal" fill="#000" text-anchor="start">UP</text><text x="271.6" y="483.1" font-size="18.3" font-weight="normal" fill="#000" text-anchor="start">DOWN</text><text transform="translate(135.2 309.5) rotate(-90)" font-size="14" text-anchor="middle">CW VW</text><text transform="translate(227.5 303.2) rotate(-90)" font-size="14" text-anchor="middle">ACW VW</text><text transform="translate(219.5 415.2) rotate(-90)" font-size="14" text-anchor="middle">ACW VW</text><text transform="translate(138 528.8) rotate(-90)" font-size="14" text-anchor="middle">CW VW</text><rect x="71.4" y="389.5" width="27.2" height="10" fill="url(#hr)" stroke="#ee7777" stroke-width="1"/><rect x="71.4" y="404.4" width="27.2" height="10" fill="url(#hg)" stroke="#666" stroke-width="1"/><text x="101.1" y="398.6" font-size="11.6" font-weight="normal" fill="#000" text-anchor="start">Injection</text><text x="101.1" y="412.8" font-size="11.6" font-weight="normal" fill="#000" text-anchor="start">Depinning</text><text x="67.6" y="587.6" font-size="11.5" font-weight="normal" fill="#000" text-anchor="middle">-200</text><text x="135.48" y="587.6" font-size="11.5" font-weight="normal" fill="#000" text-anchor="middle">-150</text><text x="203.35" y="587.6" font-size="11.5" font-weight="normal" fill="#000" text-anchor="middle">-100</text><text x="271.23" y="587.6" font-size="11.5" font-weight="normal" fill="#000" text-anchor="middle">-50</text><text x="338.4" y="587.6" font-size="11.5" font-weight="normal" fill="#000" text-anchor="middle">0</text><text x="170.8" y="611.2" font-size="15.3" font-weight="normal" fill="#000" text-anchor="start">Field (Oe)</text><text x="430.7" y="348.6" font-size="15.3" font-weight="normal" fill="#000" text-anchor="start">Injection</text><text x="430.7" y="372.2" font-size="15.3" font-weight="normal" fill="#000" text-anchor="start">Depinning</text></svg>
</body></html>
